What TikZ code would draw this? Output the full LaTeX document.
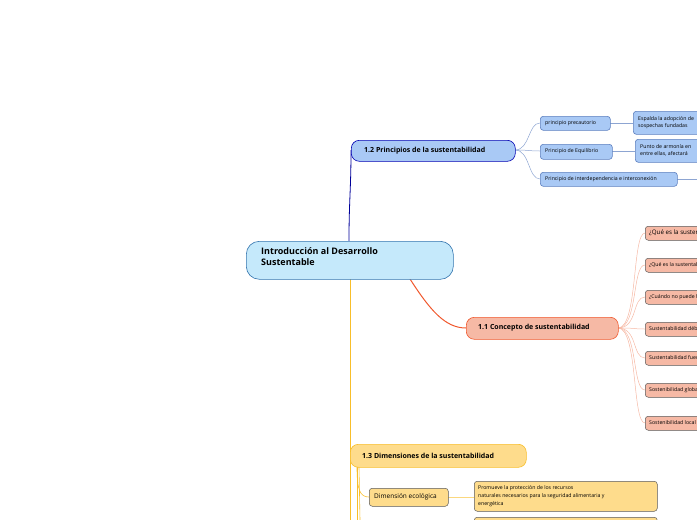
\documentclass[tikz,border=0pt]{standalone}
\usepackage{fontspec}
\setmainfont{Open Sans}
\begin{document}
\begin{tikzpicture}[x=1pt,y=-1pt,
 box/.style={draw,rounded corners=3pt,line width=0.6pt,inner sep=0pt,anchor=north west},
 bsub/.style={box,fill=b2,draw=b3},
 rsub/.style={box,fill=r1,draw=gray!70!black,line width=0.5pt},
 ysub/.style={box,fill=y1,draw=gray!70!black,line width=0.5pt},
 t/.style={font=\fontsize{5.2}{6.5}\selectfont,anchor=west,inner sep=0pt},
 tb/.style={t,font=\bfseries\fontsize{7}{8}\selectfont}]
\definecolor{b1}{HTML}{C5E9FB}\definecolor{b2}{HTML}{A9C9F5}\definecolor{b3}{HTML}{5C7FBF}
\definecolor{r1}{HTML}{F6B9A5}\definecolor{r2}{HTML}{F0582D}\definecolor{y1}{HTML}{FEDC8C}\definecolor{y2}{HTML}{F8BE2A}
\useasboundingbox (0,0) rectangle (697,520);
\begin{scope}
\clip (0,0) rectangle (697,520);
\draw[blue!60!black,line width=0.8pt] (349,241) .. controls (349,200) and (351,190) .. (351,150);
\draw[r2,line width=1pt] (410,279) .. controls (430,310) and (445,328) .. (466,328);
\draw[y2,line width=1pt] (350,279) -- (350,520);
\draw[y2,line width=0.6pt] (357,467) .. controls (357,490) and (360,497) .. (369,497);
\draw[y2,line width=0.6pt] (357,467) -- (357,520);
\draw[y2,line width=0.6pt] (359,467) -- (360,520);
\draw[y2!60,line width=0.6pt] (448,497) -- (474,497);
\foreach \yy in {123,151,179}
 \draw[b3!70,line width=0.5pt] (515,150) .. controls (530,150) and (528,\yy) .. (540,\yy);
\draw[b3!70,line width=0.5pt] (610,123) -- (633,123);
\draw[b3!70,line width=0.5pt] (612,151) -- (635,151);
\draw[b3!70,line width=0.5pt] (677,179) -- (697,179);
\foreach \yy in {233,265,297,329,358,390,423}
 \draw[r1,line width=0.5pt] (618,328) .. controls (638,328) and (632,\yy) .. (645,\yy);
\node[box,rounded corners=13pt,fill=b1,draw=cyan!60!blue!80!black,minimum width=207pt,minimum height=38pt] (root) at (246,241) {};
\node[anchor=north west,align=left,inner sep=0pt,font=\bfseries\fontsize{9}{11.5}\selectfont] at (261,247) {Introducción al Desarrollo\\Sustentable};
\node[box,rounded corners=8pt,fill=b2,draw=blue!70!black,minimum width=164pt,minimum height=21pt] (p12) at (351,140) {};
\node[tb] at (364,150.5) {1.2 Principios de la sustentabilidad};
\node[bsub,minimum width=70pt,minimum height=14pt] (pp) at (540,116) {};
\node[t] at (545,123) {principio precautorio};
\node[bsub,minimum width=72pt,minimum height=15pt] (pe) at (540,144) {};
\node[t] at (545,151.5) {Principio de Equilibrio};
\node[bsub,minimum width=137pt,minimum height=14pt] (pi) at (540,172) {};
\node[t] at (545,179) {Principio de interdependencia e interconexión};
\node[bsub,minimum width=80pt,minimum height=23pt] (ea) at (633,111) {};
\node[t,align=left] at (638,122.5) {Espalda la adopción de\\sospechas fundadas};
\node[bsub,minimum width=80pt,minimum height=23pt] (pa) at (635,139) {};
\node[t,align=left] at (640,150.5) {Punto de armonía en\\entre ellas, afectará};
\node[box,rounded corners=8pt,fill=r1,draw=r2,minimum width=152pt,minimum height=22pt] (p11) at (466,317) {};
\node[tb] at (478,328) {1.1 Concepto de sustentabilidad};
\foreach \yy/\tx/\fs in {233/{¿Qué es la sustentabilidad?}/6.2,265/{¿Qué es la sustentabilidad?}/5.2,297/{¿Cuándo no puede haber}/5.2,329/{Sustentabilidad débil}/5.2,358/{Sustentabilidad fuerte}/5.2,390/{Sostenibilidad global}/5.2,423/{Sostenibilidad local}/5.2}
{\node[rsub,minimum width=80pt,minimum height=14pt] at (645,\yy-7) {};
 \node[t,font=\fontsize{\fs}{7}\selectfont] at (649,\yy) {\tx};}
\node[box,rounded corners=8pt,fill=y1,draw=y2,minimum width=176pt,minimum height=23pt] (p13) at (350,444) {};
\node[tb] at (362,455.5) {1.3 Dimensiones de la sustentabilidad};
\node[ysub,minimum width=79pt,minimum height=18pt] (de) at (369,488) {};
\node[t,font=\fontsize{6.5}{7}\selectfont] at (374,497) {Dimensión ecológica};
\node[ysub,minimum width=183pt,minimum height=30pt] (dt) at (474,481) {};
\node[t,align=left,font=\fontsize{5.2}{8}\selectfont] at (478,496) {Promueve la protección de los recursos\\naturales necesarios para la seguridad alimentaria y\\energética};
\node[ysub,minimum width=183pt,minimum height=20pt] at (474,517) {};
\end{scope}
\end{tikzpicture}
\end{document}
